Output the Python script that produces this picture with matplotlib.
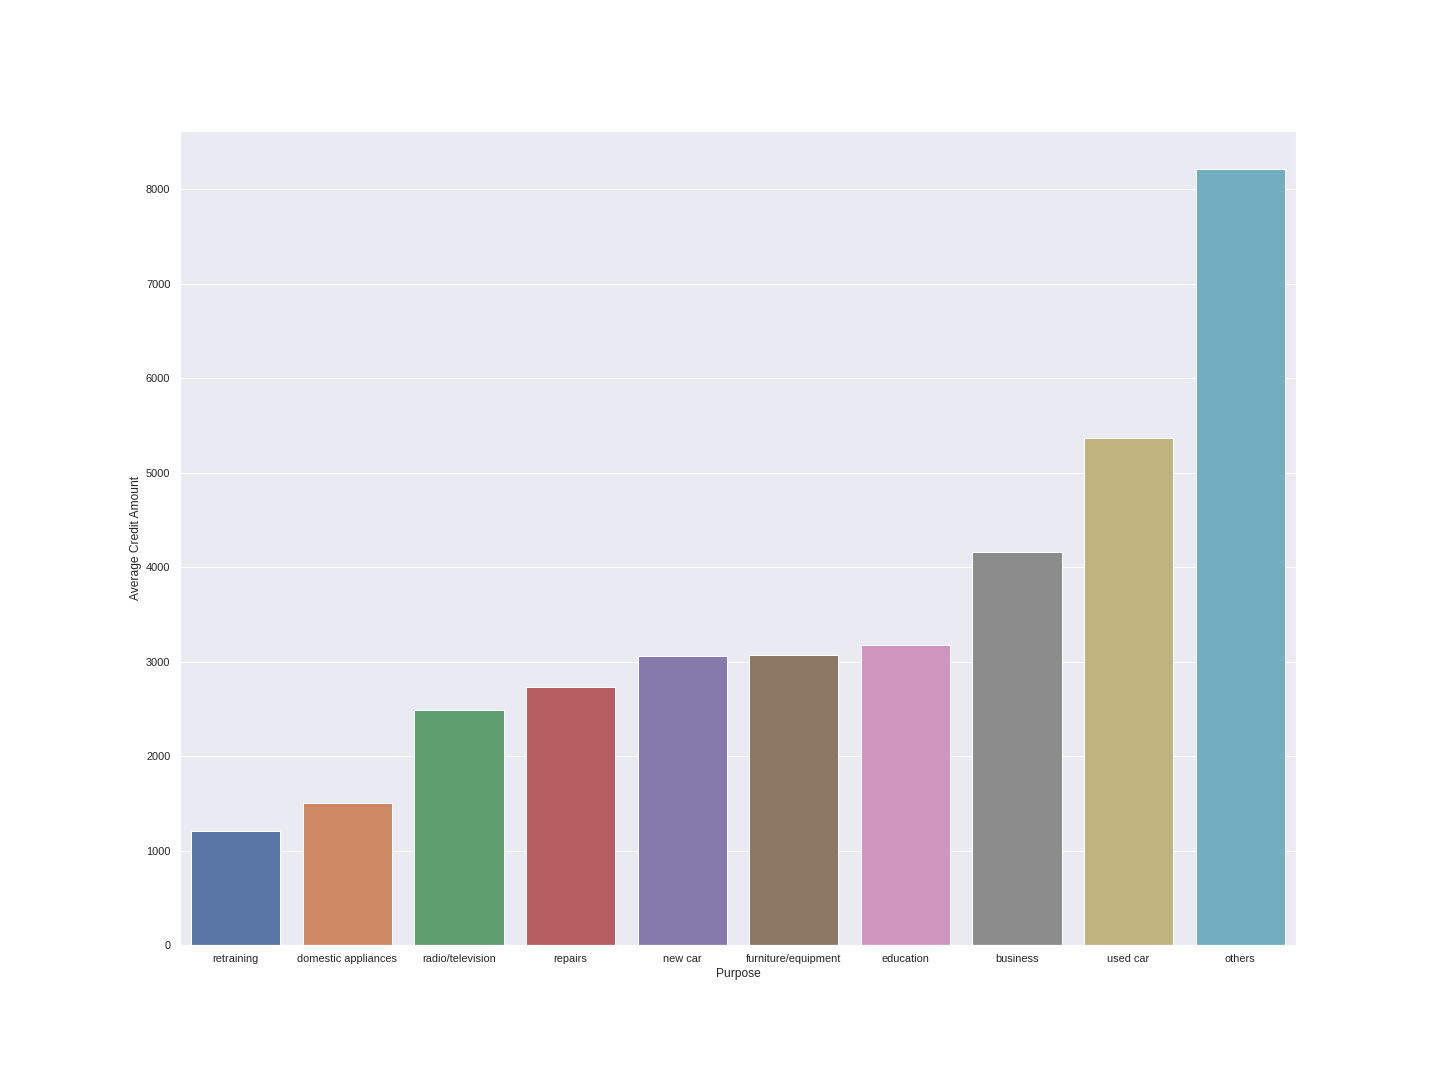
import matplotlib
matplotlib.use("Agg")
import matplotlib.pyplot as plt
import seaborn as sns
import pandas as pd

purposes = ["retraining", "domestic appliances", "radio/television", "repairs",
            "new car", "furniture/equipment", "education", "business",
            "used car", "others"]
avg_credit = [1205.9, 1498.0, 2487.7, 2728.1, 3062.9, 3067.0, 3180.4,
              4158.0, 5370.2, 8209.3]

sns.set_theme(style="darkgrid")
plt.rcParams["font.family"] = ["Liberation Sans", "DejaVu Sans"]

df = pd.DataFrame({"Purpose": purposes, "Average Credit Amount": avg_credit})

fig, ax = plt.subplots(figsize=(20, 15), dpi=72)
fig.subplots_adjust(left=0.125, right=0.9, top=0.879, bottom=0.125)

sns.barplot(data=df, x="Purpose", y="Average Credit Amount", hue="Purpose",
            palette="deep", legend=False, ax=ax)

plt.savefig("out.png", dpi=72)
plt.close()
